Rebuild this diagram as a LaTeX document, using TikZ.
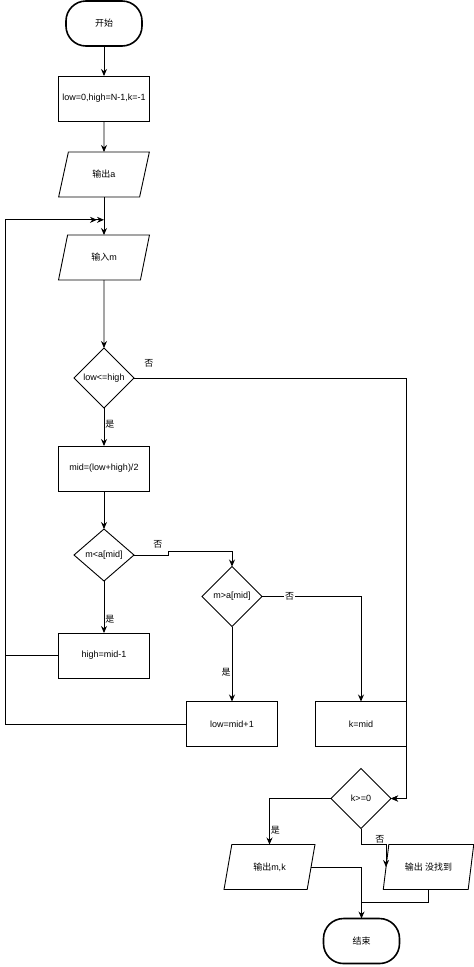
\documentclass[tikz,border=0pt]{standalone}
\usepackage{fontspec}
\setmainfont{Liberation Sans}
\newfontfamily\cjk{Noto Sans CJK SC}
\newcommand{\zh}[1]{{\cjk #1}}
\usetikzlibrary{shapes.geometric,arrows.meta,positioning,calc}
\tikzset{
  box/.style={draw, align=center, line width=0.9pt, inner sep=1pt, outer sep=0pt, font=\fontsize{9pt}{10pt}\selectfont},
  term/.style={box, rectangle, rounded corners=20pt, line width=1.6pt, minimum width=76pt, minimum height=45pt},
  proc/.style={box, rectangle, minimum width=91pt, minimum height=45pt},
  io/.style={box, trapezium, trapezium left angle=71.6, trapezium right angle=108.4, trapezium stretches=true, minimum width=91pt, minimum height=45pt},
  cond/.style={box, diamond, inner sep=0pt, minimum width=60pt, minimum height=60pt},
  lbl/.style={inner sep=1pt, font=\fontsize{9pt}{10pt}\selectfont},
  arr/.style={-{Stealth[length=7pt,width=6pt]}, line width=0.9pt},
  line/.style={line width=0.9pt}
}
\begin{document}
\begin{tikzpicture}[x=1pt, y=-1pt]
\useasboundingbox (0,0) rectangle (474,967);
\node[term] (start) at (104,23.5) {\zh{开始}};
\node[proc, below=30pt of start] (init) {low=0,high=N-1,k=-1};
\node[io, below=31pt of init] (outa) {\zh{输出}a};
\node[io, below=38pt of outa] (inm) {\zh{输入}m};
\node[cond, below=68pt of inm] (cond1) {low<=high};
\node[proc, below=38pt of cond1] (midc) {mid=(low+high)/2};
\node[cond, minimum height=52pt, below=38pt of midc] (cond2) {m<a[mid]};
\node[proc, below=52pt of cond2] (high) {high=mid-1};
\node[cond, right=68pt of cond2, yshift=-41.5pt] (cond3) {m>a[mid]};
\node[proc, below=75pt of cond3] (low) {low=mid+1};
\node[proc, right=38pt of low] (kmid) {k=mid};
\node[cond, below=22pt of kmid] (chk) {k>=0};
\node[io, below=16pt of chk, xshift=-91.5pt] (ok) {\zh{输出}m,k};
\node[io, below=16pt of chk, xshift=67.5pt] (nf) {\zh{输出 没找到}};
\node[term, below=29pt of ok, xshift=92pt] (stop) {\zh{结束}};

\coordinate (join) at ($(outa.south)!0.6!(inm.north)$);
\draw[arr] (start) -- (init);
\draw[arr] (init) -- (outa);
\draw[arr] (outa.south) -- (inm.north);
\draw[arr] (inm) -- (cond1);
\draw[arr] (cond1) -- node[lbl, right, pos=0.42]{\zh{是}} (midc);
\draw[arr] (cond1.east) -- node[lbl, above=9pt, pos=0.055]{\zh{否}} (kmid.east |- cond1.east) -- (kmid.east |- chk.east) -- (chk.east);
\draw[arr] (midc) -- (cond2);
\draw[arr] (cond2) -- node[lbl, right, pos=0.73]{\zh{是}} (high);
\draw[arr] (cond2.east) -- node[lbl, above=5pt, pos=0.7]{\zh{否}} ++(34,0) -- ++(0,-4) -| (cond3.north);
\draw[arr] (cond3) -- node[lbl, left, pos=0.61]{\zh{是}} (low);
\draw[arr] (cond3.east) -| node[lbl, fill=white, pos=0.14]{\zh{否}} (kmid.north);
\draw[arr] (kmid.east) -- (kmid.east |- chk.east) -- (chk.east);
\draw[arr] (high.west) -| ([xshift=-99pt]join) -- (join);
\draw[arr, shorten >=7pt] (low.west) -| ([xshift=-99pt]join) -- (join);
\draw[arr] (chk.west) -| node[lbl, right, pos=0.84]{\zh{是}} (ok.north);
\draw[arr] (chk.south) -- ++(0,16) -| node[lbl, above, pos=0.375]{\zh{否}} (nf.west);
\draw[arr] (ok.east) -| (stop.north);
\draw[line] (nf.south) |- ([yshift=16pt]stop.north);
\end{tikzpicture}
\end{document}
